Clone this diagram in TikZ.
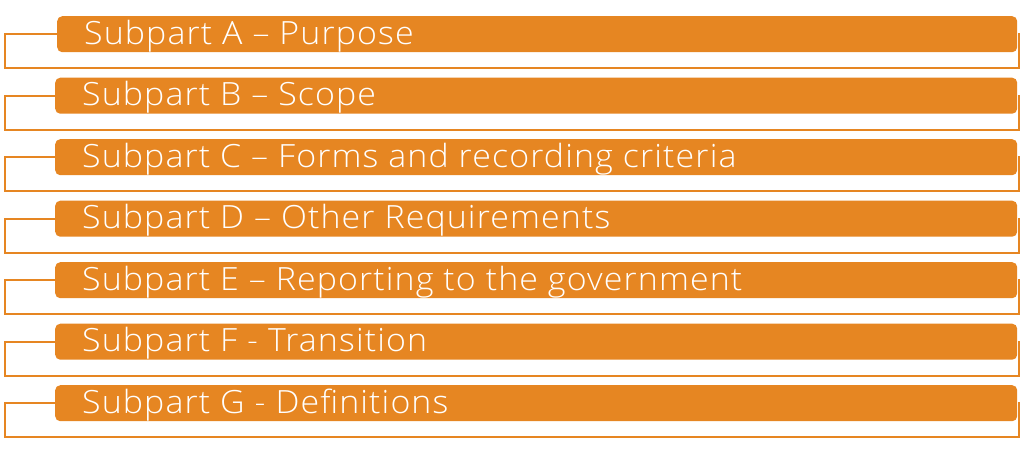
\documentclass[tikz,border=0pt]{standalone}
\usepackage{fontspec}
\newfontfamily\labelfont{Open Sans Light}[LetterSpace=3.5,FakeStretch=1.06]
\definecolor{subor}{RGB}{230,134,34}
\begin{document}
\begin{tikzpicture}[x=1pt,y=-1pt,
  subbox/.style={fill=subor,draw=none,rounded corners=5pt,minimum width=962pt,minimum height=36pt,inner sep=0pt,anchor=north west},
  sublabel/.style={anchor=base west,text=white,inner sep=0pt,font=\labelfont\fontsize{32pt}{32pt}\selectfont},
  bracket/.style={draw=subor,line width=2pt}]
\useasboundingbox (0,0) rectangle (1024,451);
\foreach \n/\t/\lx/\tx [count=\i from 0] in {A/{Subpart A – Purpose}/57/84,
  B/{Subpart B – Scope}/55/82,
  C/{Subpart C – Forms and recording criteria}/55/82,
  D/{Subpart D – Other Requirements}/55/82,
  E/{Subpart E – Reporting to the government}/55/82,
  F/{Subpart F - Transition}/55/82,
  G/{Subpart G - Definitions}/55/82}{
  \pgfmathsetmacro{\top}{16+61.5*\i}
  \node[subbox,minimum width={1017-\lx}] (box\n) at (\lx,\top) {};
  \coordinate (bl\n) at (5,\top+52);
  \coordinate (br\n) at (1019,\top+17);
  \draw[bracket] (box\n.west) -| (bl\n) -| (br\n);
  \node[sublabel] (lab\n) at (\tx,\top+28) {\t};
}
\end{tikzpicture}
\end{document}
